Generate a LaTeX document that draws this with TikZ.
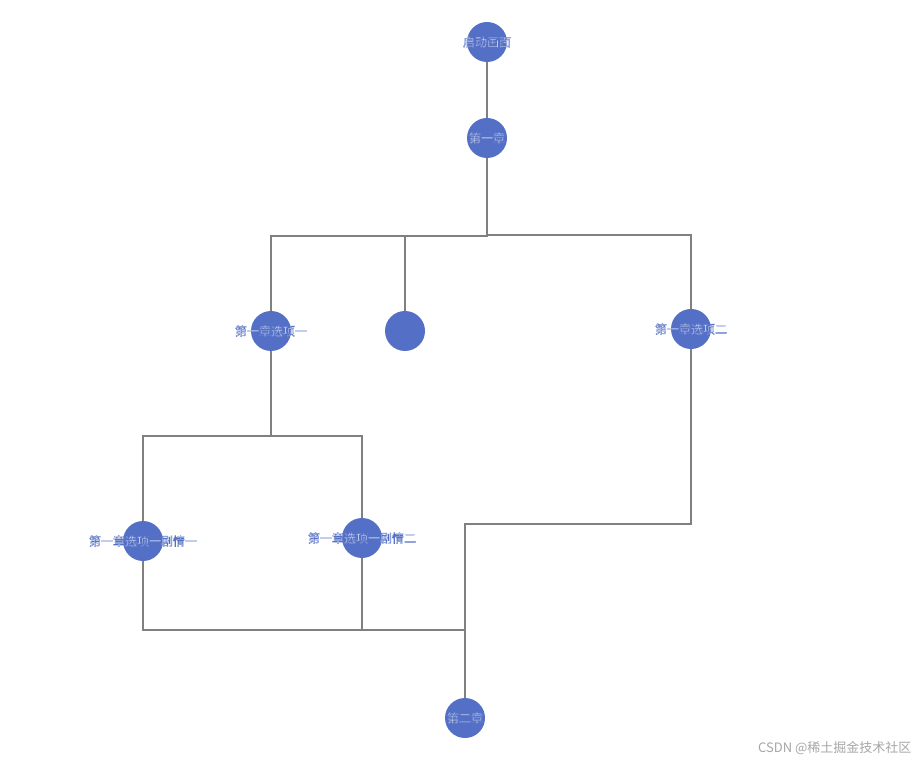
\documentclass[tikz,border=0pt]{standalone}
\usepackage{fontspec}
\setmainfont{Noto Sans CJK SC}
\usetikzlibrary{positioning,backgrounds}
\definecolor{echblue}{HTML}{5470C6}
\newcommand{\outl}[1]{\special{pdf:code q 2 Tr 0.35 w 0.33 0.44 0.78 RG}#1\special{pdf:code Q}}
\tikzset{
  stage/.style={circle,fill=echblue,minimum size=40pt,inner sep=0pt,
    label={[text=white,font=\fontsize{12}{12}\selectfont]center:\outl{#1}}},
  stage/.default={},
  link/.style={draw=black!50,line width=1.6pt}
}
\begin{document}
\begin{tikzpicture}[x=1pt,y=-1pt]
    \useasboundingbox (0,0) rectangle (922,767);
    % nodes
    \node[stage=启动画面] (start) at (487,42)  {};
    \node[stage=第一章] (ch1)   at (487,138) {};
    \node[stage=第一章选项一] (opt1)  at (271,331) {};
    \node[stage] (blank) at (405,331) {};
    \node[stage=第一章选项二] (opt2)  at (691,329) {};
    \node[stage=第一章选项一剧情一] (plot1) at (143,541) {};
    \node[stage=第一章选项一剧情二] (plot2) at (362,538) {};
    \node[stage=第二章] (ch2)   at (465,718) {};
    % links
    \begin{scope}[on background layer]
    \path[link] (start) -- (ch1);
    \path[link] (ch1) |- (271,236) -- (opt1);
    \path[link] (ch1) |- (405,236) -- (blank);
    \path[link] (ch1) |- (691,235) -- (opt2);
    \path[link] (opt1) |- (143,436) -- (plot1);
    \path[link] (opt1) |- (362,436) -- (plot2);
    \path[link] (plot1) |- (465,630) -- (ch2);
    \path[link] (plot2) |- (465,630) -- (ch2);
    \path[link] (opt2) |- (465,524) -- (ch2);
    \end{scope}
    \node[text=black!35,font=\fontsize{13}{13}\selectfont,anchor=east] (mark) at (915,748) {CSDN @稀土掘金技术社区};
\end{tikzpicture}
\end{document}
